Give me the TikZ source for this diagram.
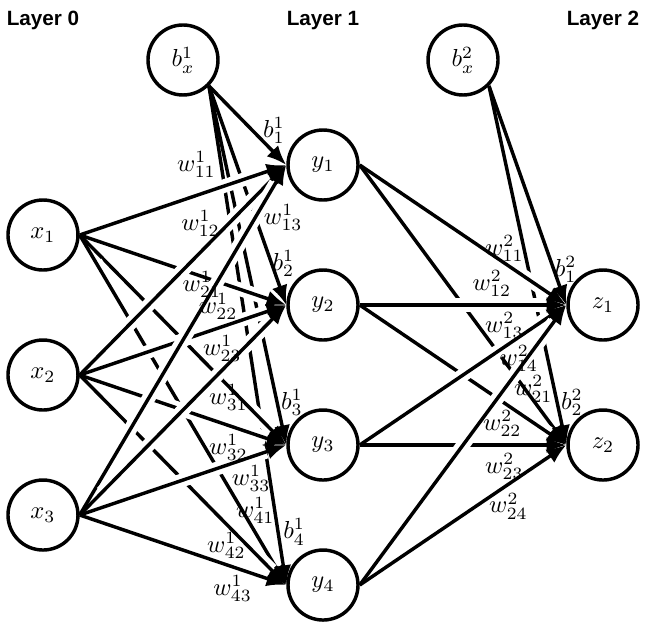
\documentclass[tikz,border=0pt]{standalone}
\usepackage{amsmath}
\usepackage{fontspec}
\setsansfont{Liberation Sans}
\usepackage{tikz}
\usetikzlibrary{arrows.meta, backgrounds}

\tikzset{
  neuron/.style={circle, draw, line width=1.4pt, fill=white, minimum size=1cm, inner sep=0pt},
  conn/.style={line width=1.4pt, -{Latex[length=8pt, width=6.5pt]}},
  cut/.style={preaction={draw=white, line width=5.5pt, arrows=-, shorten <=0.45cm, shorten >=0.3cm}},
  layertitle/.style={font=\sffamily\bfseries\fontsize{8.4}{10}\selectfont}
}

\begin{document}
\begin{tikzpicture}
    \useasboundingbox (-0.614,-0.614) rectangle (8.614,8.357);

    % titulos
    \node[layertitle] (l0) at (0,8.07) {Layer 0};
    \node[layertitle] (l1) at (4,8.07) {Layer 1};
    \node[layertitle] (l2) at (8,8.07) {Layer 2};

    % capa 0
    \node[neuron] (x1) at (0,5) {$x_1$};
    \node[neuron] (x2) at (0,3) {$x_2$};
    \node[neuron] (x3) at (0,1) {$x_3$};
    \node[neuron] (bx1) at (2,7.5) {$b^1_x$};

    % capa 1
    \node[neuron] (y1) at (4,6) {$y_1$};
    \node[neuron] (y2) at (4,4) {$y_2$};
    \node[neuron] (y3) at (4,2) {$y_3$};
    \node[neuron] (y4) at (4,0) {$y_4$};
    \node[neuron] (bx2) at (6,7.5) {$b^2_x$};

    % capa 2
    \node[neuron] (z1) at (8,4) {$z_1$};
    \node[neuron] (z2) at (8,2) {$z_2$};

    \begin{scope}[on background layer]
        % sesgos capa 1
        \draw[conn] (bx1.south east) -- (y1.west);
        \draw[conn] (bx1.south east) -- (y2.west);
        \draw[conn] (bx1.south east) -- (y3.west);
        \draw[conn] (bx1.south east) -- (y4.west);

        % pesos capa 1
        \draw[conn, cut] (x1.east) -- (y1.west);
        \draw[conn, cut] (x1.east) -- (y2.west);
        \draw[conn, cut] (x1.east) -- (y3.west);
        \draw[conn, cut] (x1.east) -- (y4.west);
        \draw[conn, cut] (x2.east) -- (y1.west);
        \draw[conn, cut] (x2.east) -- (y2.west);
        \draw[conn, cut] (x2.east) -- (y3.west);
        \draw[conn, cut] (x2.east) -- (y4.west);
        \draw[conn, cut] (x3.east) -- (y1.west);
        \draw[conn, cut] (x3.east) -- (y2.west);
        \draw[conn, cut] (x3.east) -- (y3.west);
        \draw[conn, cut] (x3.east) -- (y4.west);

        % sesgos capa 2
        \draw[conn] (bx2.south east) -- (z1.west);
        \draw[conn] (bx2.south east) -- (z2.west);

        % pesos capa 2
        \draw[conn, cut] (y1.east) -- (z1.west);
        \draw[conn, cut] (y1.east) -- (z2.west);
        \draw[conn, cut] (y2.east) -- (z1.west);
        \draw[conn, cut] (y2.east) -- (z2.west);
        \draw[conn, cut] (y3.east) -- (z1.west);
        \draw[conn, cut] (y3.east) -- (z2.west);
        \draw[conn, cut] (y4.east) -- (z1.west);
        \draw[conn, cut] (y4.east) -- (z2.west);
    \end{scope}

    % etiquetas capa 1
    \path (bx1.south east) -- node[pos=0.84, above] (lb11) {$b^1_1$} (y1.west);
    \path (bx1.south east) -- node[pos=0.71, below right] (lb12) {$b^1_2$} (y2.west);
    \path (bx1.south east) -- node[pos=0.82, below right] (lb13) {$b^1_3$} (y3.west);
    \path (bx1.south east) -- node[pos=0.85, below right] (lb14) {$b^1_4$} (y4.west);

    \path (x1.east) -- node[pos=0.70, above left] (lw11) {$w^1_{11}$} (y1.west);
    \path (x1.east) -- node[pos=0.49, below right=-1mm] (lw21) {$w^1_{21}$} (y2.west);
    \path (x1.east) -- node[pos=0.72, below=-1.5mm] (lw31) {$w^1_{31}$} (y3.west);
    \path (x1.east) -- node[pos=0.85, above] (lw41) {$w^1_{41}$} (y4.west);
    \path (x2.east) -- node[pos=0.72, left] (lw12) {$w^1_{12}$} (y1.west);
    \path (x2.east) -- node[pos=0.67, above] (lw22) {$w^1_{22}$} (y2.west);
    \path (x2.east) -- node[pos=0.72, below] (lw32) {$w^1_{32}$} (y3.west);
    \path (x2.east) -- node[pos=0.71, below] (lw42) {$w^1_{42}$} (y4.west);
    \path (x3.east) -- node[pos=0.85, right] (lw13) {$w^1_{13}$} (y1.west);
    \path (x3.east) -- node[pos=0.69, above] (lw23) {$w^1_{23}$} (y2.west);
    \path (x3.east) -- node[pos=0.83, below] (lw33) {$w^1_{33}$} (y3.west);
    \path (x3.east) -- node[pos=0.74, below] (lw43) {$w^1_{43}$} (y4.west);

    % etiquetas capa 2
    \path (bx2.south east) -- node[pos=0.74, below right] (lb21) {$b^2_1$} (z1.west);
    \path (bx2.south east) -- node[pos=0.82, below right] (lb22) {$b^2_2$} (z2.west);

    \path (y1.east) -- node[pos=0.70, above=-1mm] (lv11) {$w^2_{11}$} (z1.west);
    \path (y1.east) -- node[pos=0.84, above=-1.5mm] (lv21) {$w^2_{21}$} (z2.west);
    \path (y2.east) -- node[pos=0.64, above] (lv12) {$w^2_{12}$} (z1.west);
    \path (y2.east) -- node[pos=0.69, below] (lv22) {$w^2_{22}$} (z2.west);
    \path (y3.east) -- node[pos=0.70, above] (lv13) {$w^2_{13}$} (z1.west);
    \path (y3.east) -- node[pos=0.70, below] (lv23) {$w^2_{23}$} (z2.west);
    \path (y4.east) -- node[pos=0.77, above=-1.5mm] (lv14) {$w^2_{14}$} (z1.west);
    \path (y4.east) -- node[pos=0.72, below] (lv24) {$w^2_{24}$} (z2.west);
\end{tikzpicture}
\end{document}
